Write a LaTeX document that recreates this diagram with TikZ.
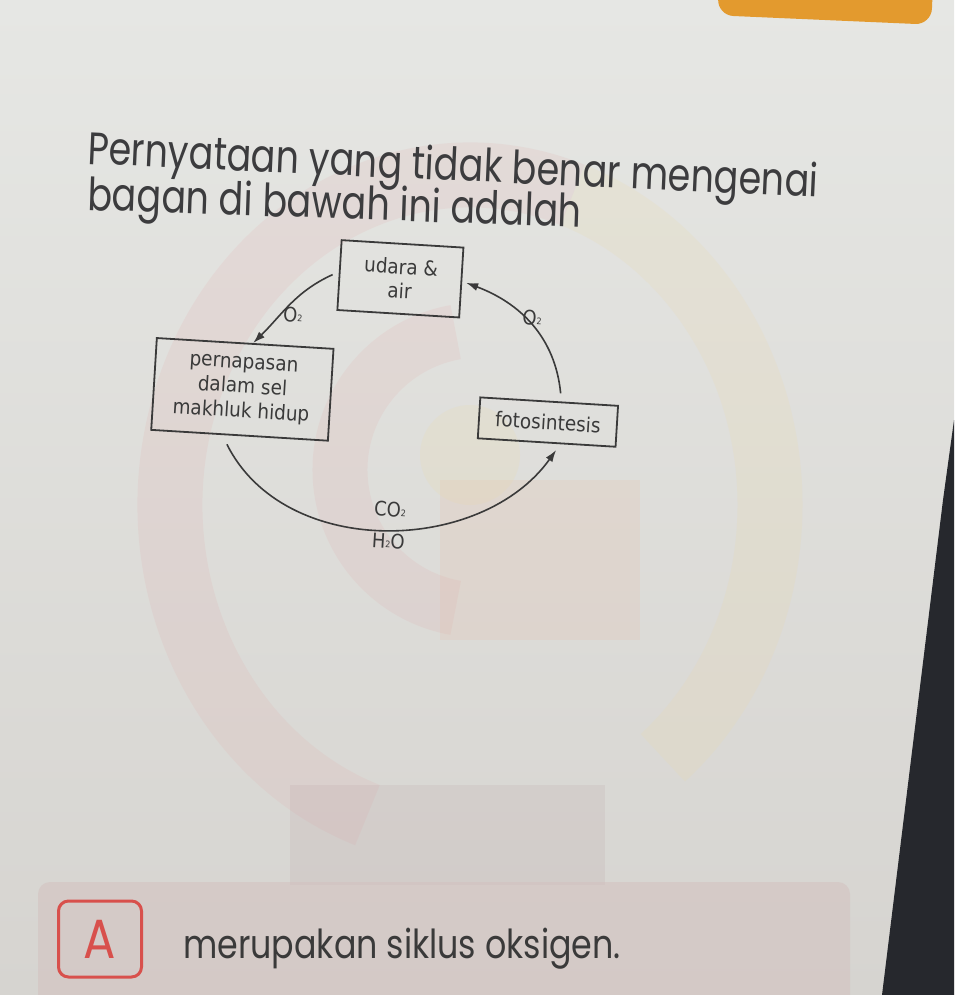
\documentclass[tikz,border=0pt]{standalone}
\usepackage{graphicx}
\usepackage{fontspec}
\setmainfont{Poppins}
\newfontfamily\diagfont{DejaVu Sans Condensed}
\usetikzlibrary{arrows.meta,calc}
\definecolor{bgtop}{HTML}{E6E7E4}
\definecolor{bgbot}{HTML}{D6D4D0}
\definecolor{inkdark}{HTML}{3A3A3A}
\definecolor{titleink}{HTML}{3C3C3E}
\definecolor{logopink}{HTML}{E2A9A9}
\definecolor{logoyellow}{HTML}{EED9A0}
\definecolor{logosalmon}{HTML}{E7B39A}
\definecolor{logomauve}{HTML}{B59A9E}
\definecolor{tabor}{HTML}{E39A2E}
\definecolor{bezel}{HTML}{26282D}
\definecolor{ansred}{HTML}{D8504C}
\definecolor{ansband}{HTML}{D3C1BF}
\newcommand\smalltwo{{\fontsize{9}{9}\selectfont\raisebox{1pt}{2}}}
\begin{document}
\begin{tikzpicture}[x=1pt,y=-1pt,
  box/.style={draw=inkdark, line width=1.8pt, text=inkdark, font=\diagfont\fontsize{20.5}{24.5}\selectfont, align=center, inner sep=0pt},
  flow/.style={draw=inkdark, line width=1.6pt, -{Latex[length=12pt,width=8pt]}},
  lbl/.style={text=inkdark, font=\diagfont\fontsize{20}{24}\selectfont, inner sep=0pt},
  question/.style={anchor=base west, text=titleink, font=\fontsize{36.5}{44}\selectfont, inner sep=0pt}]
\useasboundingbox (0,0) rectangle (954,995);
\shade[top color=bgtop, bottom color=bgbot] (0,0) rectangle (954,995);
% faint logo
\begin{scope}[opacity=0.16]
\draw[logopink, line width=65pt] (470,505) ++(70:300pt and 330pt) arc[start angle=70, end angle=250, x radius=300pt, y radius=330pt];
\draw[logoyellow, line width=65pt] (470,505) ++(-50:300pt and 330pt) arc[start angle=-50, end angle=70, x radius=300pt, y radius=330pt];
\draw[logopink, line width=55pt] (480,470) ++(100:140pt) arc[start angle=100, end angle=260, radius=140pt];
\fill[logosalmon] (440,480) rectangle (640,640);
\fill[logoyellow] (470,455) circle[radius=50pt];
\fill[logomauve] (290,785) rectangle (605,885);
\end{scope}
% answer band
\fill[ansband, opacity=0.55, rounded corners=12pt] (38,882) rectangle (850,1010);
% phone bezel and tab
\fill[bezel] (954,420) -- (943,500) -- (882,995) -- (954,995) -- cycle;
\fill[tabor, rounded corners=16pt, rotate around={-2.5:(825,5)}] (718,-30) rectangle (932,20);
% question
\node[question, rotate=-2.6] (title1) at (87,164) {\scalebox{1}[1.25]{Pernyataan yang tidak benar mengenai}};
\node[question, rotate=-2] (title2) at (87,210) {\scalebox{1}[1.25]{bagan di bawah ini adalah}};
% diagram
\begin{scope}[rotate around={-3.5:(400,400)}, transform shape]
\node[box, minimum width=122pt, minimum height=70pt] (udara) at (393,279) {udara \&\\air};
\node[box, minimum width=177pt, minimum height=92pt] (pern) at (242,399) {pernapasan\\dalam sel\\makhluk hidup};
\node[box, minimum width=138pt, minimum height=41pt] (foto) at (549,413) {fotosintesis};
\draw[flow] ([xshift=-6pt]udara.west) to[out=208,in=48] ([xshift=8pt]pern.north);
\draw[flow] ([xshift=11pt,yshift=8pt]foto.north) to[out=99,in=-17] ([xshift=4pt]udara.east);
\draw[flow] ([xshift=-12pt,yshift=-9pt]pern.south) to[out=-60,in=-122] ([xshift=10pt,yshift=-6pt]foto.south);
\node[lbl] (o2a) at (288,322) {O\smalltwo};
\node[lbl] (o2b) at (527,310) {O\smalltwo};
\node[lbl] (co2) at (397,510) {CO\smalltwo};
\node[lbl] (h2o) at (397,542) {H\smalltwo O};
\end{scope}
% answer option
\node[draw=ansred, line width=3pt, rounded corners=10pt, minimum width=83pt, minimum height=76pt, text=ansred, font=\fontsize{48}{48}\selectfont] (abox) at (100,939) {\scalebox{1}[1.15]{A}};
\node[anchor=base west, text=inkdark, font=\fontsize{33.3}{38}\selectfont, inner sep=0pt] (ans) at (183,958) {\scalebox{1}[1.2]{merupakan siklus oksigen.}};
\end{tikzpicture}
\end{document}
